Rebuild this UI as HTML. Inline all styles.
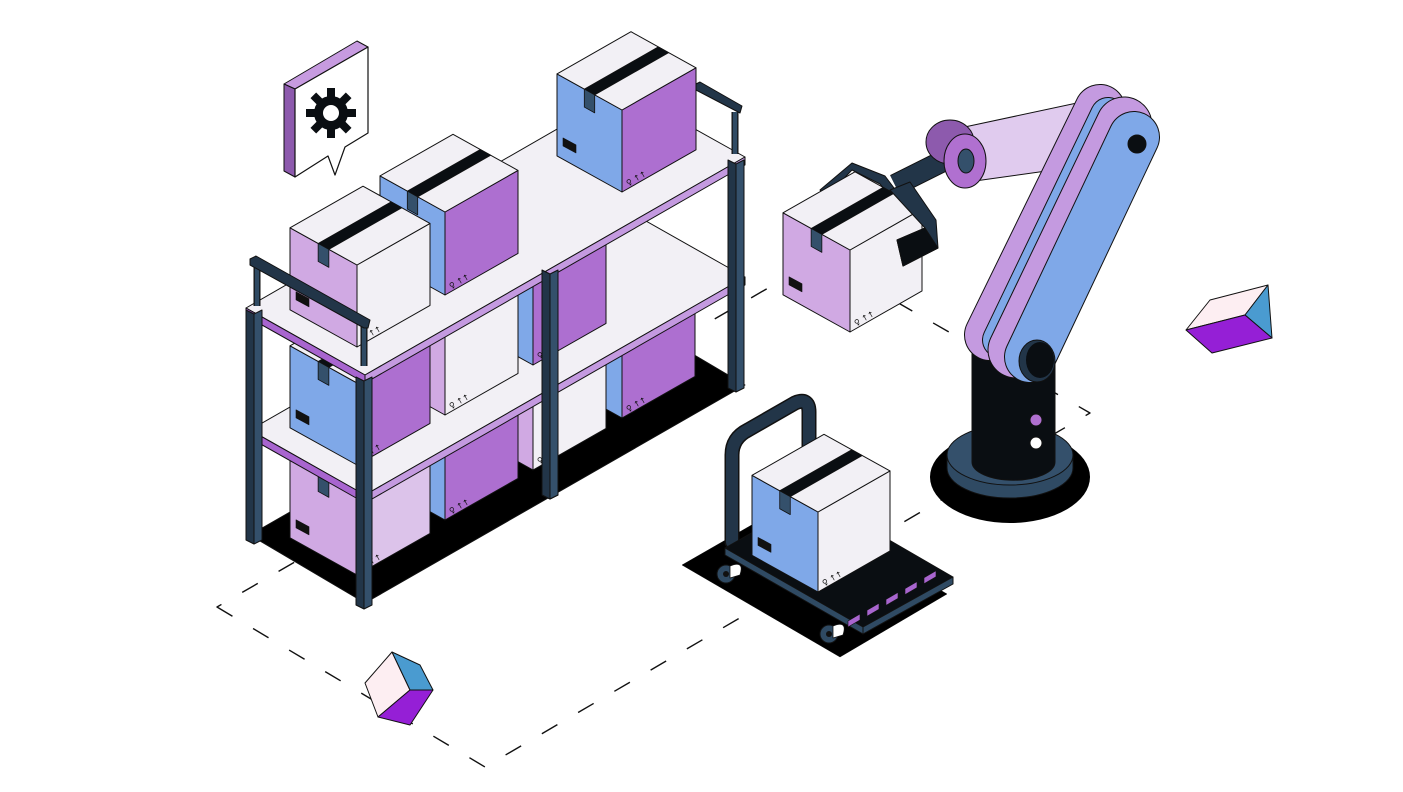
<!DOCTYPE html>
<html><head><meta charset="utf-8">
<style>html,body{margin:0;padding:0;background:#fff;width:1403px;height:792px;overflow:hidden}svg{display:block}</style>
</head><body>
<svg id="s" width="1403" height="792" viewBox="0 0 1403 792" xmlns="http://www.w3.org/2000/svg" stroke-linejoin="round">
<!-- dashed floor -->
<path d="M217,607 L485,767 L1090,413 L820,258 Z" fill="none" stroke="#111" stroke-width="1.4" stroke-dasharray="18 24"/>
<g id="g"></g>
</svg>
<script>
const g=document.getElementById('g');let out='';
const P=a=>a.map(p=>p.join(',')).join(' ');
function poly(pts,fill,sw=1,st='#111'){out+=`<polygon points="${P(pts)}" fill="${fill}" stroke="${st}" stroke-width="${sw}"/>`;}
function raw(s){out+=s;}
const ka=0.555,kb=0.57;
function box(Fx,Fy,a,b,h,cl,cr,ct,tape){
 const F=[Fx,Fy],L=[Fx-a,Fy-ka*a],R=[Fx+b,Fy-kb*b];
 const F2=[Fx,Fy-h],L2=[L[0],L[1]-h],R2=[R[0],R[1]-h],B2=[L2[0]+b,L2[1]-kb*b];
 poly([L2,F2,F,L],cl);poly([F2,R2,R,F],cr);poly([L2,B2,R2,F2],ct);
 if(tape){
  const t1=0.42,t2=0.58;
  const p1=[Fx-a*t1,Fy-h-ka*a*t1],p2=[Fx-a*t2,Fy-h-ka*a*t2];
  const d=[b,-kb*b];
  poly([p1,p2,[p2[0]+d[0],p2[1]+d[1]],[p1[0]+d[0],p1[1]+d[1]]],'#0a0e12',0.8);
  poly([p1,p2,[p2[0],p2[1]+18],[p1[0],p1[1]+18]],'#34506b',0.8);
 }
 // barcode
 const bx=Fx-a+6,by=Fy-ka*a-18;
 poly([[bx,by],[bx+13,by+7],[bx+13,by+15],[bx,by+8]],'#111',0.6);
 // symbols
 raw(`<text x="${Fx+6}" y="${Fy-6}" font-family="DejaVu Sans" font-size="8" fill="#111" transform="rotate(-29 ${Fx+6} ${Fy-6})">♀ ↑↑</text>`);
}
function post(x,y1,y2){poly([[x,y1],[x+8,y1+4],[x+8,y2+4],[x,y2]],'#223548',1);poly([[x+8,y1+4],[x+16,y1],[x+16,y2],[x+8,y2+4]],'#34506b',1);}
function shelf(l,f,r,bk,t){
 poly([l,f,r,bk],'#f2f0f5');
 poly([l,f,[f[0],f[1]+t],[l[0],l[1]+t]],'#a865cf');
 poly([f,r,[r[0],r[1]+t],[f[0],f[1]+t]],'#c49ae0');
}
// ===== Gear bubble =====
poly([[284,84],[357,41],[368,47],[295,89]],'#c79be0');
poly([[284,84],[295,89],[295,177],[284,171]],'#8d5aad');
poly([[295,89],[368,47],[368,133],[345,147],[335,175],[328,156],[295,177]],'#fff',1.2);
{let s='';const cx=331,cy=113;for(let i=0;i<8;i++){const an=i*Math.PI/4;s+=`<rect x="${cx-4}" y="${cy-25}" width="8" height="10" fill="#0a0e12" transform="rotate(${i*45} ${cx} ${cy})"/>`;}
raw(s+`<circle cx="${cx}" cy="${cy}" r="17" fill="#0a0e12"/><circle cx="${cx}" cy="${cy}" r="8" fill="#fff"/>`);}
// ===== Shelf =====
poly([[250,535],[365,603],[745,385],[630,317]],'#000');
post(542,270,495);
// bottom level boxes (back first)
box(622,418,67,73,80,'#7fa8e8','#ad6fd0','#f2f0f5',false);
box(533,470,67,73,80,'#d0a9e3','#f2f0f5','#f2f0f5',false);
box(445,520,67,73,80,'#7fa8e8','#ad6fd0','#f2f0f5',false);
box(357,575,67,73,80,'#d0a9e3','#dcc3ea','#f2f0f5',true);
shelf([250,430],[365,495],[745,277],[630,212],8);
// middle level boxes
box(533,365,67,73,82,'#7fa8e8','#ad6fd0','#f2f0f5',false);
box(445,415,67,73,82,'#d0a9e3','#f2f0f5','#f2f0f5',false);
box(357,465,67,73,82,'#7fa8e8','#ad6fd0','#f2f0f5',true);
shelf([246,308],[365,375],[745,157],[625,90],8);
// top boxes
box(622,192,65,74,82,'#7fa8e8','#ad6fd0','#f2f0f5',true);
box(445,295,65,73,83,'#7fa8e8','#ad6fd0','#f2f0f5',true);
box(357,347,67,73,82,'#d0a9e3','#f2f0f5','#f2f0f5',true);
// posts
post(542,270,495);
post(728,160,388);
post(246,310,540);
post(356,377,605);
// rails
raw(`<line x1="257" y1="266" x2="257" y2="306" stroke="#111" stroke-width="7"/><line x1="257" y1="266" x2="257" y2="306" stroke="#2f4a63" stroke-width="4.5"/>`);
raw(`<line x1="364" y1="326" x2="364" y2="366" stroke="#111" stroke-width="7"/><line x1="364" y1="326" x2="364" y2="366" stroke="#2f4a63" stroke-width="4.5"/>`);
poly([[250,259],[256,256],[370,320],[368,328],[364,328],[250,265]],'#223548');
raw(`<line x1="735" y1="112" x2="735" y2="154" stroke="#111" stroke-width="7"/><line x1="735" y1="112" x2="735" y2="154" stroke="#2f4a63" stroke-width="4.5"/>`);
poly([[696,84],[700,82],[742,106],[740,113],[696,90]],'#223548');
// ===== Cart =====
poly([[682,565],[790,503],[947,594],[840,657]],'#000',0.5);
raw(`<path d="M732,542 V455 Q732,438 748,430 L795,403 Q809,397 809,412 V462" fill="none" stroke="#111" stroke-width="15" stroke-linecap="round"/><path d="M732,542 V455 Q732,438 748,430 L795,403 Q809,397 809,412 V462" fill="none" stroke="#223548" stroke-width="12" stroke-linecap="round"/>`);
poly([[725,548],[815,497],[953,577],[863,627]],'#0a0e12');
poly([[725,548],[863,627],[863,634],[725,555]],'#2f4a63');
poly([[863,627],[953,577],[953,584],[863,634]],'#2f4a63');
{let s='';for(let i=0;i<5;i++){const x=848+i*19,y=621-i*10.8;s+=`<polygon points="${x},${y} ${x+12},${y-7} ${x+12},${y-1} ${x},${y+6}" fill="#a865cf" stroke="#111" stroke-width="0.6"/>`;}raw(s);}
raw(`<circle cx="726" cy="574" r="9" fill="#2f4a63" stroke="#111"/><circle cx="726" cy="574" r="3" fill="#111"/><path d="M730,566 Q745,560 740,575 L730,578Z" fill="#fff" stroke="#111" stroke-width="0.8"/>`);
raw(`<circle cx="829" cy="634" r="9" fill="#2f4a63" stroke="#111"/><circle cx="829" cy="634" r="3" fill="#111"/><path d="M833,626 Q848,620 843,635 L833,638Z" fill="#fff" stroke="#111" stroke-width="0.8"/>`);
box(818,592,66,72,80,'#7fa8e8','#f2f0f5','#f2f0f5',true);
// ===== Robot =====
raw(`<ellipse cx="1010" cy="477" rx="80" ry="46" fill="#000"/>`);
raw(`<path d="M947,455 V468 A63,30 0 0 0 1073,468 V455Z" fill="#2f4a63" stroke="#111"/><ellipse cx="1010" cy="455" rx="63" ry="30" fill="#34506b" stroke="#111"/>`);
raw(`<path d="M972,345 Q980,325 1013,325 Q1055,325 1055,345 V462 A41,18 0 0 1 972,462Z" fill="#0a0e12" stroke="#111"/>`);
raw(`<ellipse cx="1036" cy="420" rx="6" ry="6" fill="#b070d0" stroke="#111"/><ellipse cx="1036" cy="443" rx="6" ry="6" fill="#fff" stroke="#111"/>`);
function cap(x1,y1,x2,y2,w,c){raw(`<line x1="${x1}" y1="${y1}" x2="${x2}" y2="${y2}" stroke="#111" stroke-width="${w+2}" stroke-linecap="round"/><line x1="${x1}" y1="${y1}" x2="${x2}" y2="${y2}" stroke="${c}" stroke-width="${w}" stroke-linecap="round"/>`);}
// upper arm
poly([[960,128],[1105,97],[1125,160],[975,181]],'#e0cbee');
cap(990,335,1100,110,50,'#c49ae0');
cap(1000,340,1108,115,34,'#7fa8e8');
cap(1016,350,1124,125,55,'#c49ae0');
cap(1030,357,1134,137,50,'#7fa8e8');
raw(`<circle cx="1137" cy="144" r="9" fill="#0a0e12" stroke="#111"/><ellipse cx="1037" cy="361" rx="18" ry="21" fill="#223548" stroke="#111"/><ellipse cx="1040" cy="360" rx="14" ry="18" fill="#0a0e12"/>`);
// gripper rod and claws
raw(`<line x1="895" y1="185" x2="945" y2="160" stroke="#111" stroke-width="22" /><line x1="895" y1="185" x2="945" y2="160" stroke="#223548" stroke-width="20"/>`);
poly([[820,190],[852,163],[885,176],[900,196],[893,200],[880,184],[852,170],[826,197]],'#223548');
// joint
raw(`<ellipse cx="950" cy="142" rx="24" ry="22" fill="#8d5aad" stroke="#111"/><polygon points="930,138 955,123 980,148 960,180" fill="#8d5aad"/><ellipse cx="965" cy="161" rx="21" ry="27" fill="#b070d0" stroke="#111"/><ellipse cx="966" cy="161" rx="8" ry="12" fill="#34506b" stroke="#111"/>`);
box(850,332,67,72,82,'#d0a9e3','#f2f0f5','#f2f0f5',true);
poly([[890,190],[910,182],[936,220],[938,248],[903,266],[897,240],[925,228]],'#223548');
poly([[897,240],[925,228],[938,248],[903,266]],'#0a0e12');
// ===== small cubes =====
poly([[365,683],[392,652],[410,690],[378,717]],'#fdeef2');
poly([[392,652],[420,665],[433,690],[410,690]],'#4a9bd0');
poly([[378,717],[410,690],[433,690],[410,725]],'#951fd6');
poly([[1186,330],[1210,300],[1268,285],[1245,315]],'#fdeef2');
poly([[1268,285],[1272,338],[1245,315]],'#4a9bd0');
poly([[1186,330],[1245,315],[1272,338],[1212,353]],'#951fd6');
g.innerHTML=out;
</script>
</body></html>
